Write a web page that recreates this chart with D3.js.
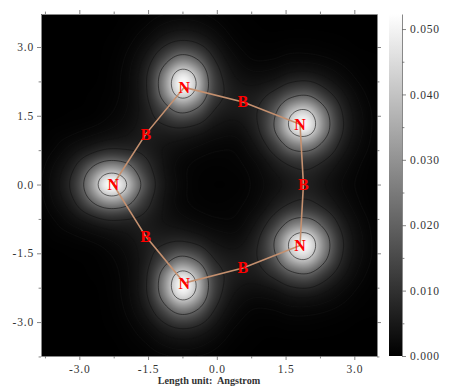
<!DOCTYPE html>
<html>
<head>
<meta charset="utf-8">
<script src="https://cdnjs.cloudflare.com/ajax/libs/d3/7.8.5/d3.min.js"></script>
<style>
html,body{margin:0;padding:0;background:#fff}
svg{display:block}
text{font-family:"Liberation Serif",serif}
</style>
</head>
<body>
<svg id="c" width="457" height="389"></svg>
<script>
// On a coarse grid (Angstrom; values x 1e-4).
const gridX = [-4.0,-3.6,-3.2,-2.8,-2.4,-2.0,-1.6,-1.2,-0.8,-0.4,0,0.4,0.8,1.2,1.6,2.0,2.4,2.8,3.2,3.6];
const gridY = [4.0,3.6,3.2,2.8,2.4,2.0,1.6,1.2,0.8,0.4,0,-0.4,-0.8,-1.2,-1.6,-2.0,-2.4,-2.8,-3.2,-3.6,-4.0];
const densityE4 = [
[0,0,0,0,0,0,2,3,5,4,3,1,0,0,0,0,0,0,0,0],
[0,0,0,0,0,2,6,14,20,17,9,3,1,0,0,0,0,0,0,0],
[0,0,0,0,1,5,17,45,67,56,27,8,3,2,3,3,2,1,0,0],
[0,0,0,0,2,10,39,120,215,165,62,20,8,8,12,12,9,5,2,1],
[0,0,0,0,3,14,60,230,460,335,105,38,24,28,46,50,33,15,5,2],
[0,0,0,1,4,15,61,231,460,335,111,56,52,84,150,170,95,38,11,3],
[0,0,1,2,7,19,52,129,218,165,70,52,70,156,355,405,205,64,18,5],
[0,3,6,11,19,31,54,65,73,57,33,28,59,173,405,465,230,70,19,5],
[2,8,24,48,73,73,64,41,28,18,12,12,34,97,209,232,133,47,14,4],
[4,18,58,165,280,246,116,44,15,7,5,7,16,44,79,89,58,25,8,2],
[6,24,83,260,503,420,172,52,16,5,3,4,12,28,51,62,38,17,6,2],
[4,18,58,165,280,246,116,44,15,7,5,7,16,44,79,89,58,25,8,2],
[2,8,24,48,73,73,64,41,28,18,12,12,34,97,209,232,133,47,14,4],
[0,3,6,11,19,31,54,65,73,57,33,28,59,173,405,465,230,70,19,5],
[0,0,1,2,7,19,52,129,218,165,70,52,70,156,355,405,205,64,18,5],
[0,0,0,1,4,15,61,231,460,335,111,56,52,84,150,170,95,38,11,3],
[0,0,0,0,3,14,60,230,460,335,105,38,24,28,46,50,33,15,5,2],
[0,0,0,0,2,10,39,120,215,165,62,20,8,8,12,12,9,5,2,1],
[0,0,0,0,1,5,17,45,67,56,27,8,3,2,3,3,2,1,0,0],
[0,0,0,0,0,2,6,14,20,17,9,3,1,0,0,0,0,0,0,0],
[0,0,0,0,0,0,2,3,5,4,3,1,0,0,0,0,0,0,0,0]
];
const contourLevels = [0.001,0.002,0.004,0.008,0.02,0.04];
const atomNames = ["N","B","N","B","N","B","N","B","N","B"];
const atomX = [-0.71,0.57,1.815,1.89,1.815,0.57,-0.71,-1.555,-2.26,-1.55];
const atomY = [2.12,1.80,1.316,0,-1.33,-1.82,-2.15,-1.125,0,1.10];
const axisMajor = [-3,-1.5,0,1.5,3];
const axisAll = [-3.75,-3,-2.25,-1.5,-0.75,0,0.75,1.5,2.25,3];
const barMajor = [0,0.01,0.02,0.03,0.04,0.05];
const barAll = [0,0.005,0.01,0.015,0.02,0.025,0.03,0.035,0.04,0.045,0.05];
const axisTitle = "Length unit:  Angstrom";

const plot = {l:41,r:377,t:14,b:356};
const x = d3.scaleLinear().domain([-3.836,3.495]).range([plot.l,plot.r]);
const y = d3.scaleLinear().domain([3.72,-3.74]).range([plot.t,plot.b]);
const cb = d3.scaleLinear().domain([0,0.0523]).range([plot.b,plot.t]);
const gray = d3.scaleLinear().domain([0,0.0523]).range([0,255]).clamp(true);

const nx = gridX.length, ny = gridY.length, step = 0.4;
const cr = (a,b,c,d,t)=>b+0.5*t*(c-a+t*(2*a-5*b+4*c-d+t*(3*(b-c)+d-a)));
// resampled in log space: the lobes fall off smoothly and this avoids ringing and square shapes
const at = (i,j)=>Math.log(densityE4[Math.max(0,Math.min(ny-1,j))][Math.max(0,Math.min(nx-1,i))]+1);
function sample(px,py){
  const fx=(px-gridX[0])/step, fy=(gridY[0]-py)/step;
  const i=Math.floor(fx), j=Math.floor(fy), tx=fx-i, ty=fy-j, col=[];
  for(let k=-1;k<=2;k++) col.push(cr(at(i-1,j+k),at(i,j+k),at(i+1,j+k),at(i+2,j+k),tx));
  return Math.max(0,Math.exp(cr(col[0],col[1],col[2],col[3],ty))-1)*1e-4;
}

const svg = d3.select("#c");
const W = plot.r-plot.l, H = plot.b-plot.t;
const cv = document.createElement("canvas"); cv.width=W; cv.height=H;
const g2 = cv.getContext("2d"), img = g2.createImageData(W,H);
for(let j=0;j<H;j++)for(let i=0;i<W;i++){
  const v=gray(sample(x.invert(plot.l+i+.5),y.invert(plot.t+j+.5))), o=(j*W+i)*4;
  img.data[o]=img.data[o+1]=img.data[o+2]=v; img.data[o+3]=255;
}
g2.putImageData(img,0,0);
svg.append("image").attr("x",plot.l).attr("y",plot.t).attr("width",W).attr("height",H).attr("href",cv.toDataURL());

// contours, traced on a finer resampling of the grid
const sub=8, cw=(nx-1)*sub+1, ch=(ny-1)*sub+1, fine=new Float64Array(cw*ch);
for(let j=0;j<ch;j++)for(let i=0;i<cw;i++) fine[j*cw+i]=sample(gridX[0]+i*step/sub,gridY[0]-j*step/sub);
const contours=d3.contours().size([cw,ch]).smooth(true).thresholds(contourLevels)(fine);
const proj=d3.geoTransform({point(a,b){this.stream.point(x(gridX[0]+(a-.5)*step/sub),y(gridY[0]-(b-.5)*step/sub));}});
svg.append("clipPath").attr("id","pc").append("rect").attr("x",plot.l).attr("y",plot.t).attr("width",W).attr("height",H);
svg.append("g").attr("clip-path","url(#pc)").selectAll("path").data(contours).join("path")
  .attr("d",d3.geoPath(proj)).attr("fill","none").attr("stroke","#111").attr("stroke-width",0.7).attr("stroke-opacity",0.85);

// bonds
const idx=d3.range(atomX.length);
svg.append("path").attr("d",d3.line().x(i=>x(atomX[i])).y(i=>y(atomY[i])).curve(d3.curveLinearClosed)(idx))
  .attr("fill","none").attr("stroke","#c4906f").attr("stroke-width",1.6);
svg.append("g").selectAll("text").data(idx).join("text")
  .attr("x",i=>x(atomX[i])).attr("y",i=>y(atomY[i])).attr("text-anchor","middle").attr("dy","0.34em")
  .attr("fill","#ff0000").attr("font-weight","bold").attr("font-size",16).text(i=>atomNames[i]);

// axes
function styleAxis(g){
  g.selectAll("path.domain").attr("stroke","#888").attr("stroke-width",1);
  g.selectAll(".tick line").attr("stroke","#666").attr("stroke-width",0.8);
  g.selectAll("text").attr("font-size",11.5).attr("fill","#333").attr("letter-spacing","0.8px");
}
const fmt=d=>d3.format(".1f")(d).replace("\u2212","-");
function major(vs,v){return vs.some(m=>Math.abs(m-v)<1e-9);}
function tickFix(g,vs,horizontal){
  g.selectAll(".tick").each(function(d){ if(!major(vs,d)) d3.select(this).select("line").attr(horizontal?"y2":"x2",function(){return +d3.select(this).attr(horizontal?"y2":"x2")*0.6;}); });
}
const lab=d=>major(axisMajor,d)?fmt(d):"";
const mk=(ax,tr,vs,h)=>{const g=svg.append("g").attr("transform",tr).call(ax);styleAxis(g);tickFix(g,vs,h);return g;};
mk(d3.axisBottom(x).tickValues(axisAll).tickFormat(lab).tickSize(4).tickPadding(5).tickSizeOuter(0),`translate(0,${plot.b})`,axisMajor,true);
mk(d3.axisTop(x).tickValues(axisAll).tickFormat("").tickSize(4).tickSizeOuter(0),`translate(0,${plot.t})`,axisMajor,true);
mk(d3.axisLeft(y).tickValues(axisAll).tickFormat(lab).tickSize(4).tickPadding(3).tickSizeOuter(0),`translate(${plot.l},0)`,axisMajor,false);
mk(d3.axisRight(y).tickValues(axisAll).tickFormat("").tickSize(4).tickSizeOuter(0),`translate(${plot.r},0)`,axisMajor,false);

svg.append("text").attr("x",209).attr("y",383.5).attr("text-anchor","middle").attr("font-size",10.2).attr("font-weight","bold")
  .attr("fill","#333").style("white-space","pre").text(axisTitle);

// colour bar
const defs=svg.append("defs"), lg=defs.append("linearGradient").attr("id","bar").attr("x1",0).attr("x2",0).attr("y1",1).attr("y2",0);
lg.append("stop").attr("offset",0).attr("stop-color","#000");
lg.append("stop").attr("offset",1).attr("stop-color","#fff");
svg.append("rect").attr("x",389).attr("y",plot.t).attr("width",13).attr("height",H).attr("fill","url(#bar)");
mk(d3.axisRight(cb).tickValues(barAll).tickFormat(d=>major(barMajor,d)?d3.format(".3f")(d):"").tickSize(4).tickPadding(4).tickSizeOuter(0),"translate(402,0)",barMajor,false);
</script>
</body>
</html>
